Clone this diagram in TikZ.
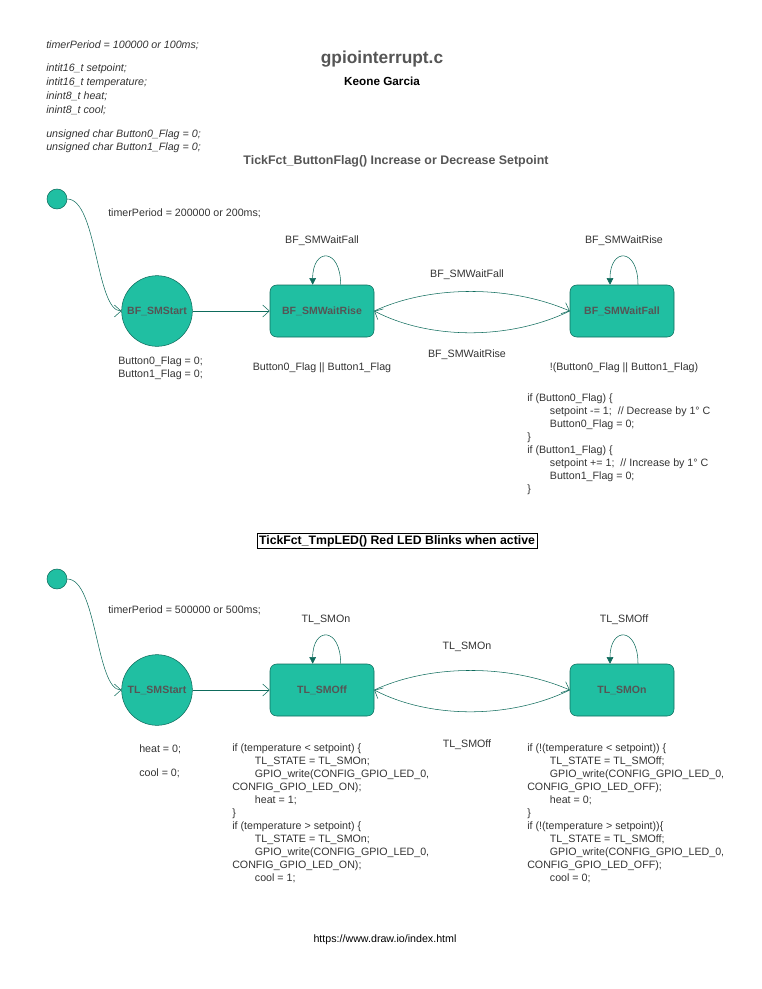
\documentclass[tikz,border=0pt]{standalone}
\usepackage{fontspec}
\setmainfont{Liberation Sans}
\usetikzlibrary{arrows.meta}
\definecolor{fillc}{HTML}{20BFA2}
\definecolor{linec}{HTML}{0E6B5C}
\definecolor{txt}{HTML}{333333}
\definecolor{ntxt}{HTML}{555555}
\begin{document}
\begin{tikzpicture}[x=0.75pt,y=-0.75pt,
 every node/.style={inner sep=0pt,text=txt,font=\fontsize{8}{9.6}\selectfont},
 state/.style={draw=linec,fill=fillc,rounded corners=5pt,minimum width=78pt,minimum height=39pt,font=\fontsize{7.9}{9}\selectfont\bfseries,text=ntxt},
 start/.style={draw=linec,fill=fillc,circle,minimum size=53pt,font=\fontsize{7.9}{9}\selectfont\bfseries,text=ntxt},
 init/.style={draw=linec,fill=fillc,circle,minimum size=15pt},
 tr/.style={draw=linec,-{Straight Barb[length=5pt,width=9pt]}},
 loop/.style={draw=linec,-{Triangle[length=5pt,width=5pt]}},
 lbl/.style={font=\fontsize{8}{9.6}\selectfont},
 code/.style={anchor=north west,align=left,font=\fontsize{8}{9.75}\selectfont}]
\useasboundingbox (0,0) rectangle (762,989);
\node[code,font=\fontsize{8}{9.6}\selectfont\itshape] (hdr) at (46,41) {timerPeriod = 100000 or 100ms;};
\node[code,font=\fontsize{8}{10.5}\selectfont\itshape] (vars) at (46,64) {intit16\_t setpoint;\\intit16\_t temperature;\\inint8\_t heat;\\inint8\_t cool;};
\node[code,font=\fontsize{8}{9.75}\selectfont\itshape] (flags) at (46,130) {unsigned char Button0\_Flag = 0;\\unsigned char Button1\_Flag = 0;};
\node[font=\fontsize{13}{15}\selectfont\bfseries,text=ntxt] (title) at (382,59) {gpiointerrupt.c};
\node[font=\fontsize{8.8}{10}\selectfont\bfseries,text=black] (author) at (382,81) {Keone Garcia};
\node[font=\fontsize{9.3}{11}\selectfont\bfseries,text=ntxt] (t1) at (396,161) {TickFct\_ButtonFlag() Increase or Decrease Setpoint};

% part 1
\node[init] (i1) at (57,199) {};
\node[lbl,anchor=west] (tp1) at (108,213) {timerPeriod = 200000 or 200ms;};
\node[start] (s1) at (157,311) {BF\_SMStart};
\node[state] (wr) at (322,311) {BF\_SMWaitRise};
\node[state] (wf) at (622,311) {BF\_SMWaitFall};
\draw[tr] (i1.east) .. controls (97,199) and (96,311) .. (s1.west);
\draw[tr] (s1) -- (wr);
\draw[tr] (wr.east) .. controls (430,285) and (510,285) .. (wf.west);
\draw[tr] (wf.west) .. controls (510,340) and (430,340) .. (wr.east);
\draw[loop] ([xshift=14pt]wr.north) .. controls ([xshift=14pt,yshift=28pt]wr.north) and ([xshift=-7pt,yshift=28pt]wr.north) .. ([xshift=-7pt]wr.north);
\draw[loop] ([xshift=12pt]wf.north) .. controls ([xshift=12pt,yshift=28pt]wf.north) and ([xshift=-9pt,yshift=28pt]wf.north) .. ([xshift=-9pt]wf.north);
\node[lbl] (l1) at (322,241) {BF\_SMWaitFall};
\node[lbl] (l2) at (624,241) {BF\_SMWaitRise};
\node[lbl] (l3) at (467,275) {BF\_SMWaitFall};
\node[lbl] (l4) at (467,355) {BF\_SMWaitRise};
\node[code] (b1) at (118,356) {Button0\_Flag = 0;\\Button1\_Flag = 0;};
\node[lbl] (c1) at (322,368) {Button0\_Flag || Button1\_Flag};
\node[lbl] (c2) at (624,368) {!(Button0\_Flag || Button1\_Flag)};
\node[code] (cd1) at (527,393) {if (Button0\_Flag) \{\\\hspace*{17pt}setpoint -= 1;\ \ // Decrease by 1° C\\\hspace*{17pt}Button0\_Flag = 0;\\\}\\if (Button1\_Flag) \{\\\hspace*{17pt}setpoint += 1;\ \ // Increase by 1° C\\\hspace*{17pt}Button1\_Flag = 0;\\\}};

\node[draw=black,inner sep=1.5pt,font=\fontsize{9.2}{11}\selectfont\bfseries,text=black] (t2) at (397,541) {TickFct\_TmpLED() Red LED Blinks when active};

% part 2
\node[init] (i2) at (57,579) {};
\node[lbl,anchor=west] (tp2) at (108,610) {timerPeriod = 500000 or 500ms;};
\node[start] (s2) at (157,690) {TL\_SMStart};
\node[state] (off) at (322,690) {TL\_SMOff};
\node[state] (on) at (622,690) {TL\_SMOn};
\draw[tr] (i2.east) .. controls (97,579) and (96,690) .. (s2.west);
\draw[tr] (s2) -- (off);
\draw[tr] (off.east) .. controls (430,664) and (510,664) .. (on.west);
\draw[tr] (on.west) .. controls (510,719) and (430,719) .. (off.east);
\draw[loop] ([xshift=14pt]off.north) .. controls ([xshift=14pt,yshift=28pt]off.north) and ([xshift=-7pt,yshift=28pt]off.north) .. ([xshift=-7pt]off.north);
\draw[loop] ([xshift=12pt]on.north) .. controls ([xshift=12pt,yshift=28pt]on.north) and ([xshift=-9pt,yshift=28pt]on.north) .. ([xshift=-9pt]on.north);
\node[lbl] (l5) at (326,620) {TL\_SMOn};
\node[lbl] (l6) at (624,620) {TL\_SMOff};
\node[lbl] (l7) at (467,647) {TL\_SMOn};
\node[lbl] (l8) at (467,745) {TL\_SMOff};
\node[lbl,anchor=west] (h0) at (139,749) {heat = 0;};
\node[lbl,anchor=west] (c0) at (139,773) {cool = 0;};
\node[code] (cd2) at (232,743) {if (temperature < setpoint) \{\\\hspace*{17pt}TL\_STATE = TL\_SMOn;\\\hspace*{17pt}GPIO\_write(CONFIG\_GPIO\_LED\_0,\\CONFIG\_GPIO\_LED\_ON);\\\hspace*{17pt}heat = 1;\\\}\\if (temperature > setpoint) \{\\\hspace*{17pt}TL\_STATE = TL\_SMOn;\\\hspace*{17pt}GPIO\_write(CONFIG\_GPIO\_LED\_0,\\CONFIG\_GPIO\_LED\_ON);\\\hspace*{17pt}cool = 1;};
\node[code] (cd3) at (527,743) {if (!(temperature < setpoint)) \{\\\hspace*{17pt}TL\_STATE = TL\_SMOff;\\\hspace*{17pt}GPIO\_write(CONFIG\_GPIO\_LED\_0,\\CONFIG\_GPIO\_LED\_OFF);\\\hspace*{17pt}heat = 0;\\\}\\if (!(temperature > setpoint))\{\\\hspace*{17pt}TL\_STATE = TL\_SMOff;\\\hspace*{17pt}GPIO\_write(CONFIG\_GPIO\_LED\_0,\\CONFIG\_GPIO\_LED\_OFF);\\\hspace*{17pt}cool = 0;};
\node[lbl,text=black] (url) at (385,940) {https://www.draw.io/index.html};
\end{tikzpicture}
\end{document}
